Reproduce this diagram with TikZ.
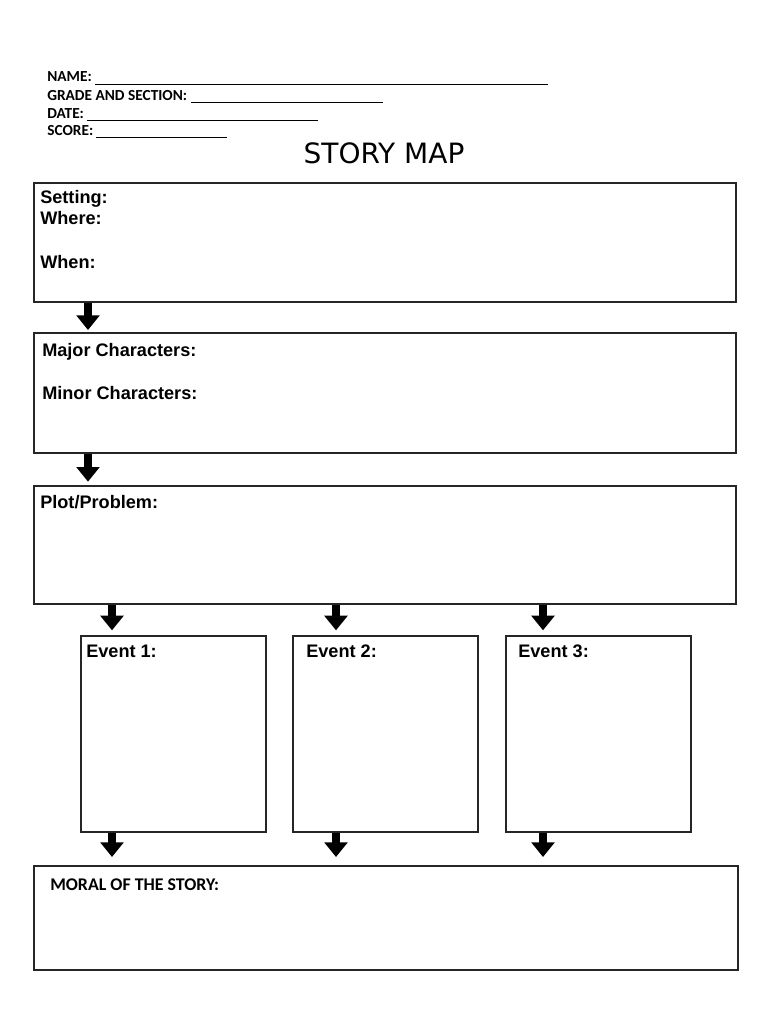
\documentclass[tikz,border=0pt]{standalone}
\usepackage{fontspec}
\usetikzlibrary{arrows.meta}
\newfontfamily\hdrfont{Carlito}
\newfontfamily\lblfont{Liberation Sans}
\newfontfamily\ttlfont{DejaVu Sans}
\tikzset{
  storybox/.style={draw=black!85, line width=1.3pt, fill=white, anchor=north west, inner sep=0pt},
  hdr/.style={anchor=base west, inner sep=0pt, font=\hdrfont\bfseries\fontsize{11.5}{13}\selectfont},
  lbl/.style={anchor=base west, inner sep=0pt, font=\lblfont\bfseries\fontsize{13.6}{15}\selectfont},
  uline/.style={line width=1.1pt, black},
  flow/.style={line width=6pt, black, -{Triangle[width=17pt,length=11pt]}}
}
\begin{document}
\begin{tikzpicture}[x=0.75pt,y=-0.75pt]
\useasboundingbox[fill=white] (0,0) rectangle (768,1024);
% header
\node[hdr] (name) at (47,82) {NAME:};
\node[hdr] (grade) at (47,100) {GRADE AND SECTION:};
\node[hdr] (date) at (47,118) {DATE:};
\node[hdr] (score) at (47,135) {SCORE:};
\coordinate (nameL) at (95,84.5);   \coordinate (nameR) at (548,84.5);
\coordinate (gradeL) at (191,102.5); \coordinate (gradeR) at (383,102.5);
\coordinate (dateL) at (87,120.5);   \coordinate (dateR) at (318,120.5);
\coordinate (scoreL) at (96,137.5);  \coordinate (scoreR) at (227,137.5);
\draw[uline] (nameL) -- (nameR);
\draw[uline] (gradeL) -- (gradeR);
\draw[uline] (dateL) -- (dateR);
\draw[uline] (scoreL) -- (scoreR);
\node[anchor=base, inner sep=0pt, font=\ttlfont\fontsize{21}{25}\selectfont] (title) at (384,163) {STORY MAP};
% boxes
\node[storybox, minimum width=526.5pt, minimum height=89.25pt] (setting) at (33,182) {};
\node[storybox, minimum width=526.5pt, minimum height=90pt] (chars) at (33,332) {};
\node[storybox, minimum width=526.5pt, minimum height=88.5pt] (plot) at (33,485) {};
\node[storybox, minimum width=138.75pt, minimum height=147pt] (ev1) at (80,635) {};
\node[storybox, minimum width=138.75pt, minimum height=147pt] (ev2) at (292,635) {};
\node[storybox, minimum width=138.75pt, minimum height=147pt] (ev3) at (505,635) {};
\node[storybox, minimum width=528pt, minimum height=78pt] (moral) at (33,865) {};
% labels
\node[lbl] (lset) at (40,203) {Setting:};
\node[lbl] (lwhere) at (40,224) {Where:};
\node[lbl] (lwhen) at (40,268) {When:};
\node[lbl] (lmajor) at (42,356) {Major Characters:};
\node[lbl] (lminor) at (42,399) {Minor Characters:};
\node[lbl] (lplot) at (40,508) {Plot/Problem:};
\node[lbl] (lev1) at (86,657) {Event 1:};
\node[lbl] (lev2) at (306,657) {Event 2:};
\node[lbl] (lev3) at (518,657) {Event 3:};
\node[hdr, font=\hdrfont\bfseries\fontsize{13.4}{15}\selectfont] (lmoral) at (50,890) {MORAL OF THE STORY:};
% arrows
\coordinate (xa) at (88,0);
\coordinate (x1) at (112,0);
\coordinate (x2) at (336,0);
\coordinate (x3) at (543,0);
\draw[flow, shorten >=1.5pt] (setting.south -| xa) -- (chars.north -| xa);
\draw[flow, shorten >=2.5pt] (chars.south -| xa) -- (plot.north -| xa);
\draw[flow, shorten >=3.5pt] (plot.south -| x1) -- (ev1.north -| x1);
\draw[flow, shorten >=3.5pt] (plot.south -| x2) -- (ev2.north -| x2);
\draw[flow, shorten >=3.5pt] (plot.south -| x3) -- (ev3.north -| x3);
\draw[flow, shorten >=6pt] (ev1.south -| x1) -- (moral.north -| x1);
\draw[flow, shorten >=6pt] (ev2.south -| x2) -- (moral.north -| x2);
\draw[flow, shorten >=6pt] (ev3.south -| x3) -- (moral.north -| x3);
\end{tikzpicture}
\end{document}
